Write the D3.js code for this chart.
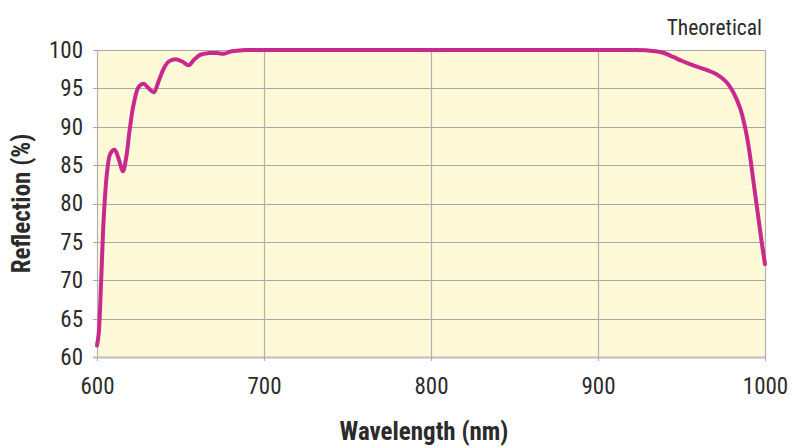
<!DOCTYPE html>
<html><head><meta charset="utf-8">
<script src="https://cdn.jsdelivr.net/npm/d3@7"></script>
<style>
html,body{margin:0;padding:0;background:#fff;}
svg text{font-family:"Liberation Sans Narrow","Roboto Condensed","Arial Narrow",Roboto,sans-serif;fill:#2b2b2b;}
</style></head><body>
<svg id="c" width="800" height="448"></svg>
<script>
const wavelength = [600,601,602.5,604,606,608,610.5,613,615.5,617.5,619.5,622,625,628,631,634,637,640,643,647,651,655,658,662,667,672,676,680,690,700,750,800,850,900,920,930,938,945,950,957,965,972,977,981,985,988,990.5,993,995.5,998,1000];
const reflection = [61.5,63,70,78,84,86.5,87,85.8,84.2,86,89.5,93,95.2,95.6,95,94.5,96,97.6,98.5,98.8,98.5,98,98.7,99.4,99.6,99.6,99.5,99.8,100,100,100,100,100,100,100,99.95,99.7,99.1,98.6,98,97.4,96.7,95.8,94.5,92.5,90,87,83,79,75,72.1];
const xTicks = [600,700,800,900,1000];
const yTicks = [60,65,70,75,80,85,90,95,100];
const xTitle = "Wavelength (nm)";
const yTitle = "Reflection (%)";
const note = "Theoretical";

const svg = d3.select("#c");
const m = {l:97, r:765, t:50, b:357};
const x = d3.scaleLinear().domain([600,1000]).range([m.l,m.r]);
const y = d3.scaleLinear().domain([60,100]).range([m.b,m.t]);

svg.append("rect").attr("x",m.l).attr("y",m.t).attr("width",m.r-m.l).attr("height",m.b-m.t).attr("fill","#fefad8");

// grid
svg.append("g").selectAll("line").data(yTicks).join("line")
  .attr("x1",m.l-4).attr("x2",m.r).attr("y1",d=>Math.round(y(d))+0.5).attr("y2",d=>Math.round(y(d))+0.5)
  .attr("stroke",d=>d===60?"#bdbdbd":"#a8a8a8").attr("stroke-width",d=>d===60?2:1.2);
svg.append("g").selectAll("line").data(xTicks).join("line")
  .attr("x1",d=>Math.round(x(d))+0.5).attr("x2",d=>Math.round(x(d))+0.5).attr("y1",m.t).attr("y2",m.b+4)
  .attr("stroke","#b0b0b0").attr("stroke-width",1.2);

// axes labels via d3 axes
const ax = svg.append("g").attr("transform",`translate(0,${m.b})`)
  .call(d3.axisBottom(x).tickValues(xTicks).tickSize(0).tickPadding(21).tickFormat(d3.format("d")));
ax.select(".domain").remove();
ax.selectAll("text").attr("font-size",23).style("font-family",null);
const ay = svg.append("g").attr("transform",`translate(${m.l},0)`)
  .call(d3.axisLeft(y).tickValues(yTicks).tickSize(0).tickPadding(14).tickFormat(d3.format("d")));
ay.select(".domain").remove();
ay.selectAll("text").attr("font-size",23).style("font-family",null);

// line
svg.append("path").datum(wavelength.map((w,i)=>[w,reflection[i]]))
  .attr("fill","none").attr("stroke","#c9298c").attr("stroke-width",4).attr("stroke-linecap","round").attr("stroke-linejoin","round")
  .attr("d",d3.line().x(d=>x(d[0])).y(d=>y(d[1])).curve(d3.curveCatmullRom.alpha(0.5)));

svg.append("text").attr("x",(m.l+m.r)/2-7).attr("y",440).attr("text-anchor","middle").attr("font-size",25).attr("font-weight","bold").text(xTitle);
svg.append("text").attr("transform",`translate(30,${(m.t+m.b)/2}) rotate(-90)`).attr("text-anchor","middle").attr("font-size",25).attr("font-weight","bold").text(yTitle);
svg.append("text").attr("x",762).attr("y",35).attr("text-anchor","end").attr("font-size",21.5).text(note);
</script></body></html>
